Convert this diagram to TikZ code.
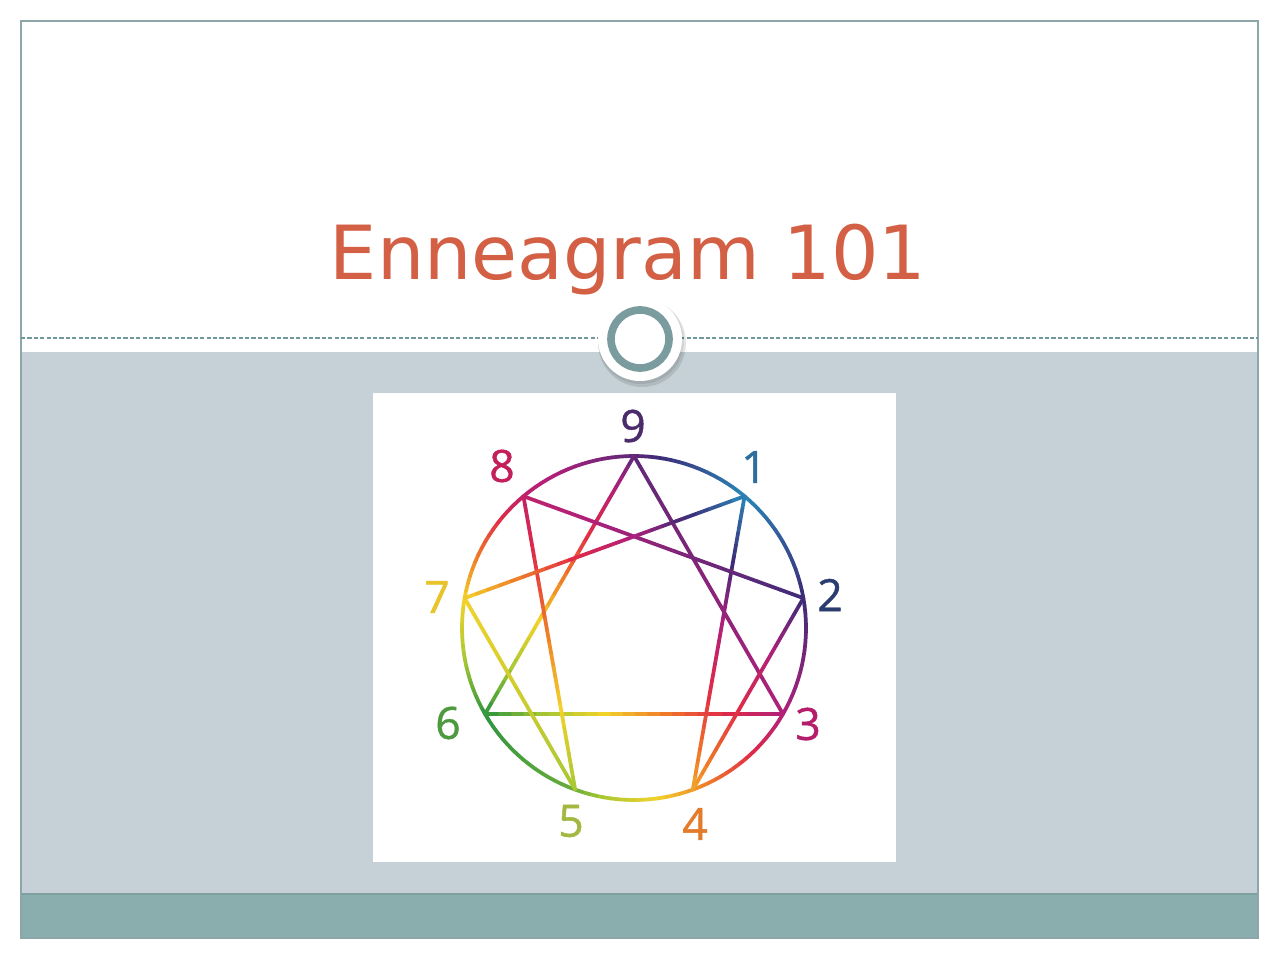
\documentclass[tikz,border=0pt]{standalone}
\usepackage{fontspec}
\setmainfont{DejaVu Sans}
\newfontfamily\numfont[FakeBold=1]{Open Sans}
\usetikzlibrary{calc}
\definecolor{bandcol}{HTML}{C5D1D6}
\definecolor{footcol}{HTML}{8AADAD}
\definecolor{footline}{HTML}{7E9E9F}
\definecolor{framecol}{HTML}{8DA6A8}
\definecolor{dashcol}{HTML}{6F999B}
\definecolor{ringcol}{HTML}{7A9C9E}
\definecolor{titlecol}{HTML}{D35F45}
\definecolor{pal0}{HTML}{2A86B8}
\definecolor{pal1}{HTML}{3C2C78}
\definecolor{pal2}{HTML}{B0207A}
\definecolor{pal3}{HTML}{E02A48}
\definecolor{pal4}{HTML}{F07A28}
\definecolor{pal5}{HTML}{F2D22A}
\definecolor{pal6}{HTML}{A8C834}
\definecolor{pal7}{HTML}{2E9440}
\definecolor{c9}{HTML}{4A2B6B}
\definecolor{c8}{HTML}{C21F5B}
\definecolor{c1}{HTML}{2F6E9C}
\definecolor{c2}{HTML}{2B3D6E}
\definecolor{c7}{HTML}{E8C32A}
\definecolor{c3}{HTML}{B51D6B}
\definecolor{c6}{HTML}{4E9A3E}
\definecolor{c5}{HTML}{A2B840}
\definecolor{c4}{HTML}{E47B2A}
\newcommand\sethue[1]{%
  \pgfmathsetmacro\hT{#1}%
  \pgfmathtruncatemacro\hI{min(floor(\hT),6)}%
  \pgfmathtruncatemacro\hJ{\hI+1}%
  \pgfmathtruncatemacro\hP{round(100*(\hT-\hI))}%
  \colorlet{hc}{pal\hJ!\hP!pal\hI}}
\newcommand\gline[4]{%
  \foreach \k in {0,...,23}{%
    \pgfmathsetmacro\sa{\k/24}%
    \pgfmathsetmacro\sb{(\k+1)/24}%
    \pgfmathsetmacro\hh{#2+(#4-#2)*(\k+0.5)/24}%
    \sethue{\hh}%
    \draw[eline] ($(n#1)!\sa!(n#3)$) -- ($(n#1)!\sb!(n#3)$);}}
\tikzset{
  eline/.style={draw=hc, line width=2.1pt, line cap=round},
  lab/.style={font=\numfont\fontsize{25}{25}\selectfont, inner sep=0pt},
  framebox/.style={draw=framecol, line width=1.1pt},
  dashrule/.style={draw=dashcol, line width=0.6pt, dash pattern=on 2.4pt off 1.2pt},
}
\begin{document}
\begin{tikzpicture}[x=0.5625pt,y=-0.5625pt]
\useasboundingbox (0,0) rectangle (1280,960);
\fill[white] (0,0) rectangle (1280,960);
\fill[bandcol] (21,352) rectangle (1258,894);
\fill[footcol] (21,894) rectangle (1258,938);
\draw[footline, line width=0.8pt] (21,894) -- (1258,894);
\draw[framebox] (21,21) rectangle (1258,938);
\draw[dashrule] (21,338) -- (1258,338);
\node[font=\fontsize{42}{42}\selectfont, text=titlecol, anchor=base, inner sep=0pt] (title) at (628,280) {Enneagram 101};
% ornament
\fill[black, opacity=0.10] (642,343) circle [radius=44];
\fill[black, opacity=0.08] (641,341) circle [radius=43];
\fill[white] (640,339) circle [radius=42];
\draw[ringcol, line width=4.3pt] (640,339) circle [radius=29];
% picture
\fill[white] (373,393) rectangle (896,862);
\foreach \n/\a in {9/0,1/40,2/80,3/120,4/160,5/200,6/240,7/280,8/320}{
  \coordinate (n\n) at ({634+172*sin(\a)},{628-172*cos(\a)});
}
% circle
\foreach \k/\ha/\hb in {0/1.3/0, 1/0/1, 2/1/2, 3/2/4.3, 4/4.3/6.5, 5/6.5/7, 6/7/5, 7/5/2.3, 8/2.3/1.3}{
  \foreach \j in {0,...,15}{
    \pgfmathsetmacro\aa{40*\k+2.5*\j}
    \pgfmathsetmacro\ab{\aa+2.5}
    \pgfmathsetmacro\hh{\ha+(\hb-\ha)*(\j+0.5)/16}
    \sethue{\hh}
    \draw[eline] ({634+172*sin(\aa)},{628-172*cos(\aa)}) -- ({634+172*sin(\ab)},{628-172*cos(\ab)});
  }
}
% lines
\gline{9}{1.3}{3}{2}
\gline{9}{1.3}{6}{7}
\gline{3}{2}{6}{7}
\gline{1}{0}{4}{4.5}
\gline{4}{4.5}{2}{1}
\gline{2}{1}{8}{2.3}
\gline{8}{2.3}{5}{6}
\gline{5}{6}{7}{5}
\gline{7}{5}{1}{0}
% labels
\node[lab, text=c9] (l9) at (633,426) {9};
\node[lab, text=c1] (l1) at (754,467) {1};
\node[lab, text=c2] (l2) at (830,595) {2};
\node[lab, text=c3] (l3) at (808,724) {3};
\node[lab, text=c4] (l4) at (695,824) {4};
\node[lab, text=c5] (l5) at (571,821) {5};
\node[lab, text=c6] (l6) at (448,723) {6};
\node[lab, text=c7] (l7) at (437,597) {7};
\node[lab, text=c8] (l8) at (502,466) {8};
\end{tikzpicture}
\end{document}
